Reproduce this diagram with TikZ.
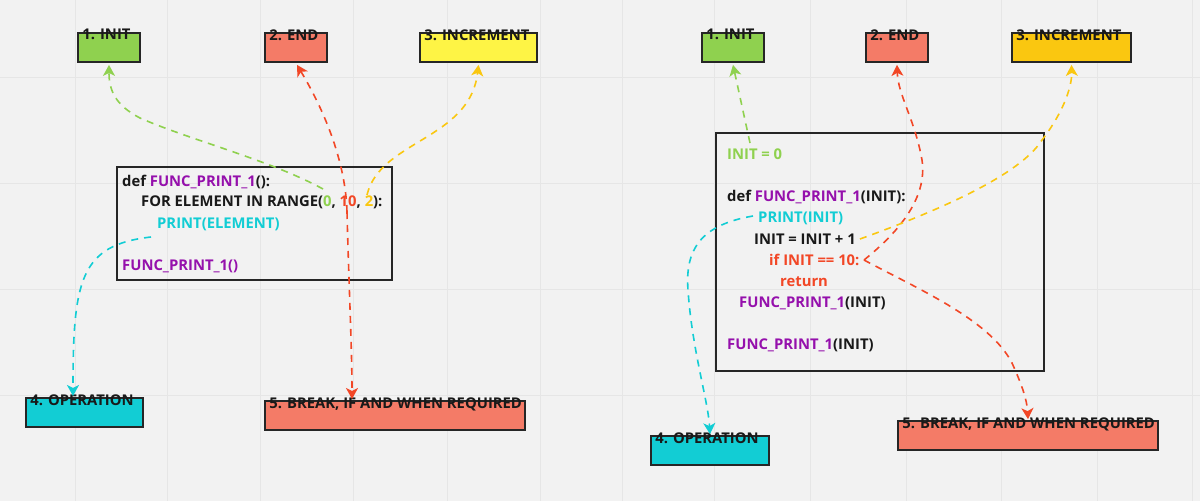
\documentclass[tikz,border=0pt]{standalone}
\usepackage{fontspec}
\setmainfont{Open Sans}
\usetikzlibrary{arrows.meta}
\definecolor{bg}{HTML}{F2F2F2}
\definecolor{gridc}{HTML}{E6E6E6}
\definecolor{cgreen}{HTML}{8FD14F}
\definecolor{cred}{HTML}{F24726}
\definecolor{csalmon}{HTML}{F47B67}
\definecolor{cyel}{HTML}{FEF445}
\definecolor{corange}{HTML}{FAC710}
\definecolor{ccyan}{HTML}{12CDD4}
\definecolor{cpurp}{HTML}{9510AC}
\tikzset{
  lbl/.style={draw=black!85,line width=1.8pt,inner sep=0pt,font=\bfseries\fontsize{14.8}{16}\selectfont,text=black!90,align=left},
  lbltxt/.style={anchor=north west,inner sep=0pt,font=\bfseries\fontsize{14.8}{16}\selectfont,text=black!90},
  codebox/.style={draw=black!85,line width=1.8pt},
  code/.style={anchor=west,inner sep=0pt,font=\bfseries\fontsize{14.8}{16}\selectfont,text=black!90},
  conn/.style={dash pattern=on 7pt off 6pt,line width=1.6pt,-{Stealth[length=11pt,width=12pt,inset=3pt]}}
}
\begin{document}
\begin{tikzpicture}[x=1pt,y=-1pt]
\fill[bg] (0,0) rectangle (1200,501);
\useasboundingbox (0,0) rectangle (1200,501);
\foreach \x in {75,167,260,353,447,540,622,714,810,906,1001,1097,1192}
  \draw[gridc,line width=0.8pt] (\x,0) -- (\x,501);
\foreach \y in {77,183,289,395}
  \draw[gridc,line width=0.8pt] (0,\y) -- (1200,\y);

% ---------- left ----------
\draw[codebox] (117,167) rectangle (392,280);
\node[code] (l1) at (122,182) {def \textcolor{cpurp}{FUNC\_PRINT\_1}():};
\node[code] (l2) at (141,202) {FOR ELEMENT IN RANGE(\textcolor{cgreen}{0}, \textcolor{cred}{10}, \textcolor{corange}{2}):};
\node[code,text=ccyan] (l3) at (157,224) {PRINT(ELEMENT)};
\node[code,text=cpurp] (l4) at (122,266) {FUNC\_PRINT\_1()};

\node[lbl,fill=cgreen,minimum width=62pt,minimum height=29pt] (Linit) at (109,47.5) {};
\node[lbltxt] at ([shift={(5pt,3pt)}]Linit.north west) {1. INIT};
\node[lbl,fill=csalmon,minimum width=62pt,minimum height=29pt] (Lend) at (296,47.5) {};
\node[lbltxt] at ([shift={(5pt,3pt)}]Lend.north west) {2. END};
\node[lbl,fill=cyel,minimum width=117pt,minimum height=29pt] (Linc) at (478.5,47.5) {};
\node[lbltxt] at ([shift={(5pt,3pt)}]Linc.north west) {3. INCREMENT};
\node[lbl,fill=ccyan,minimum width=117pt,minimum height=29pt] (Lop) at (84.5,412.5) {};
\node[lbltxt] at ([shift={(5pt,3pt)}]Lop.north west) {4. OPERATION};
\node[lbl,fill=csalmon,minimum width=260pt,minimum height=29pt] (Lbrk) at (395,415.5) {};
\node[lbltxt] at ([shift={(5pt,3pt)}]Lbrk.north west) {5. BREAK, IF AND WHEN REQUIRED};

\coordinate (lg) at (323,189);
\coordinate (lr) at (347,212);
\coordinate (ly) at (367,195);
\coordinate (lc) at (151,237);
\draw[conn,cgreen] (lg) .. controls (270,160) and (190,140) .. (140,118) .. controls (115,105) and (109,90) .. ([yshift=-2pt]Linit.south);
\draw[conn,cred] (lr) .. controls (346,170) and (330,120) .. ([xshift=1pt,yshift=-2pt]Lend.south);
\draw[conn,cred] (lr) .. controls (349,290) and (352,350) .. (352,399);
\draw[conn,corange] (ly) .. controls (380,140) and (470,140) .. ([yshift=-2pt]Linc.south);
\draw[conn,ccyan] (lc) .. controls (80,245) and (73,280) .. (73,396);

% ---------- right ----------
\draw[codebox] (716,133) rectangle (1044,371);
\node[code,text=cgreen] (r1) at (727,154) {INIT = 0};
\node[code] (r2) at (727,197) {def \textcolor{cpurp}{FUNC\_PRINT\_1}(INIT):};
\node[code,text=ccyan] (r3) at (758,218) {PRINT(INIT)};
\node[code] (r4) at (754,239) {INIT = INIT + 1};
\node[code,text=cred] (r5) at (769,260) {if INIT == 10:};
\node[code,text=cred] (r6) at (780,282) {return};
\node[code] (r7) at (739,303) {\textcolor{cpurp}{FUNC\_PRINT\_1}(INIT)};
\node[code] (r8) at (727,345) {\textcolor{cpurp}{FUNC\_PRINT\_1}(INIT)};

\node[lbl,fill=cgreen,minimum width=62pt,minimum height=29pt] (Rinit) at (733,47.5) {};
\node[lbltxt] at ([shift={(5pt,3pt)}]Rinit.north west) {1. INIT};
\node[lbl,fill=csalmon,minimum width=62pt,minimum height=29pt] (Rend) at (897,47.5) {};
\node[lbltxt] at ([shift={(5pt,3pt)}]Rend.north west) {2. END};
\node[lbl,fill=corange,minimum width=119pt,minimum height=29pt] (Rinc) at (1071.5,47.5) {};
\node[lbltxt] at ([shift={(5pt,3pt)}]Rinc.north west) {3. INCREMENT};
\node[lbl,fill=ccyan,minimum width=118pt,minimum height=29pt] (Rop) at (710,450.5) {};
\node[lbltxt] at ([shift={(5pt,3pt)}]Rop.north west) {4. OPERATION};
\node[lbl,fill=csalmon,minimum width=260pt,minimum height=29pt] (Rbrk) at (1028,435.5) {};
\node[lbltxt] at ([shift={(5pt,3pt)}]Rbrk.north west) {5. BREAK, IF AND WHEN REQUIRED};

\coordinate (rg) at (750,143);
\coordinate (rr) at (864,260);
\coordinate (ry) at (860,239);
\coordinate (rc) at (753,216);
\draw[conn,cgreen] (rg) -- ([yshift=-2pt]Rinit.south);
\draw[conn,cred] (rr) .. controls (895,235) and (928,200) .. (922,160) .. controls (915,120) and (898,95) .. ([yshift=-2pt]Rend.south);
\draw[conn,cred] (rr) .. controls (920,290) and (990,320) .. (1012,363) .. controls (1022,385) and (1027,400) .. ([yshift=1pt]Rbrk.north);
\draw[conn,corange] (ry) .. controls (940,210) and (1020,175) .. (1042,140) .. controls (1065,110) and (1072,85) .. ([yshift=-2pt]Rinc.south);
\draw[conn,ccyan] (rc) .. controls (700,225) and (685,250) .. (688,290) .. controls (692,350) and (708,400) .. ([yshift=1pt]Rop.north);
\end{tikzpicture}
\end{document}
